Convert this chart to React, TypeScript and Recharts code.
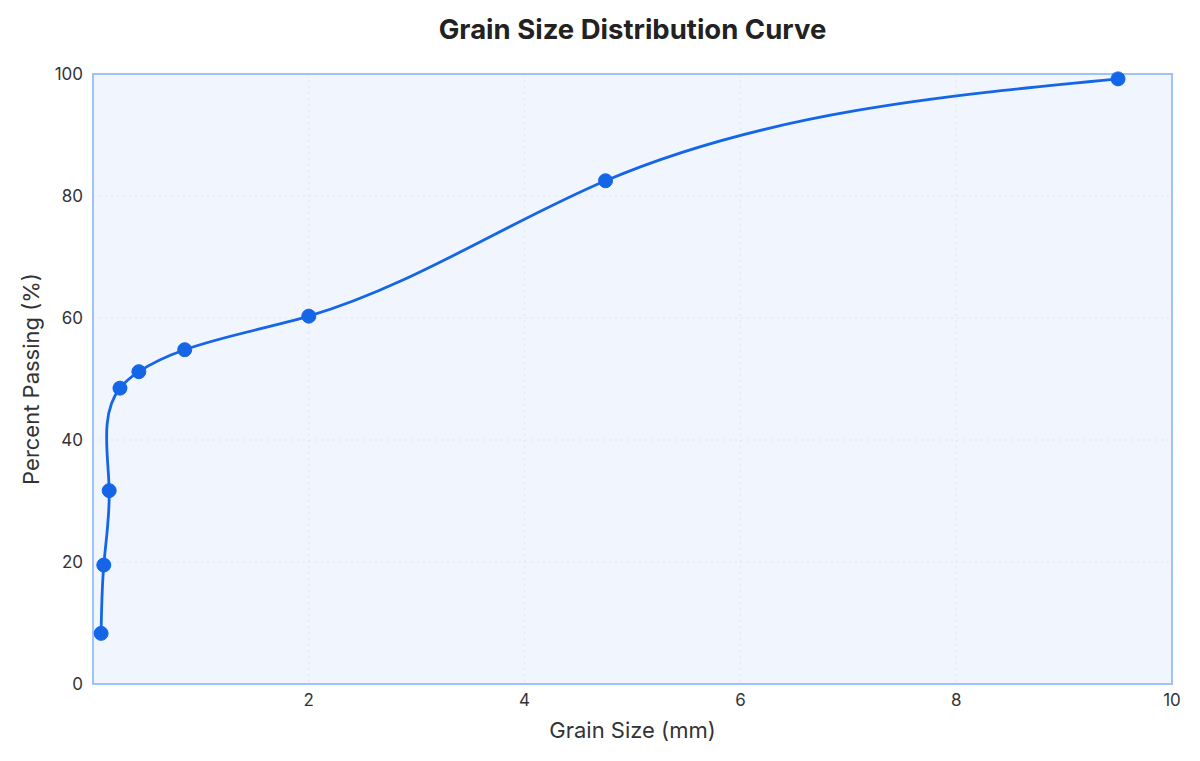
import { LineChart, Line, XAxis, YAxis, CartesianGrid, ReferenceArea } from 'recharts'

const grainSize = [0.075, 0.1, 0.15, 0.25, 0.425, 0.85, 2.0, 4.75, 9.5]
const percentPassing = [8.3, 19.5, 31.7, 48.5, 51.2, 54.8, 60.3, 82.5, 99.2]
const xTicks = [2, 4, 6, 8, 10]
const yTicks = [0, 20, 40, 60, 80, 100]

const data = grainSize.map((size, i) => ({ size, passing: percentPassing[i] }))

const FONT = 'Inter, "Noto Sans", sans-serif'
const BLUE = '#1466e6'

// natural cubic spline through the points, parameterised by chord length
function solveNatural(t: number[], v: number[]) {
  const n = v.length - 1
  const h = t.slice(1).map((x, i) => x - t[i])
  const M = new Array(n + 1).fill(0)
  if (n < 2) return { h, M }
  const a: number[] = [], b: number[] = [], c: number[] = [], d: number[] = []
  for (let i = 1; i < n; i++) {
    a.push(h[i - 1])
    b.push(2 * (h[i - 1] + h[i]))
    c.push(h[i])
    d.push(6 * ((v[i + 1] - v[i]) / h[i] - (v[i] - v[i - 1]) / h[i - 1]))
  }
  const m = b.length
  for (let i = 1; i < m; i++) {
    const w = a[i] / b[i - 1]
    b[i] -= w * c[i - 1]
    d[i] -= w * d[i - 1]
  }
  const sol = new Array(m).fill(0)
  sol[m - 1] = d[m - 1] / b[m - 1]
  for (let i = m - 2; i >= 0; i--) sol[i] = (d[i] - c[i] * sol[i + 1]) / b[i]
  for (let i = 0; i < m; i++) M[i + 1] = sol[i]
  return { h, M }
}

function chordSpline(context: any) {
  let pts: [number, number][] = []
  return {
    areaStart() {},
    areaEnd() {},
    lineStart() {
      pts = []
    },
    point(x: number, y: number) {
      pts.push([+x, +y])
    },
    lineEnd() {
      if (!pts.length) return
      context.moveTo(pts[0][0], pts[0][1])
      if (pts.length < 3) {
        pts.slice(1).forEach((p) => context.lineTo(p[0], p[1]))
        return
      }
      const t = [0]
      for (let i = 1; i < pts.length; i++) {
        t.push(t[i - 1] + Math.hypot(pts[i][0] - pts[i - 1][0], pts[i][1] - pts[i - 1][1]))
      }
      const xs = pts.map((p) => p[0])
      const ys = pts.map((p) => p[1])
      const sx = solveNatural(t, xs)
      const sy = solveNatural(t, ys)
      for (let i = 0; i < pts.length - 1; i++) {
        const h = sx.h[i]
        const d0 = (v: number[], M: number[]) => (v[i + 1] - v[i]) / h - (h * (2 * M[i] + M[i + 1])) / 6
        const d1 = (v: number[], M: number[]) => (v[i + 1] - v[i]) / h + (h * (M[i] + 2 * M[i + 1])) / 6
        const c1x = xs[i] + (h * d0(xs, sx.M)) / 3
        const c1y = ys[i] + (h * d0(ys, sy.M)) / 3
        const c2x = xs[i + 1] - (h * d1(xs, sx.M)) / 3
        const c2y = ys[i + 1] - (h * d1(ys, sy.M)) / 3
        context.bezierCurveTo(c1x, c1y, c2x, c2y, xs[i + 1], ys[i + 1])
      }
    },
  }
}

export default function App() {
  return (
    <div style={{ position: 'absolute', left: 0, top: 0, width: 1200, height: 761, background: '#fff', fontFamily: FONT }}>
      <div
        style={{
          position: 'absolute',
          left: 93,
          width: 1079,
          top: 12,
          textAlign: 'center',
          fontSize: 27.5,
          fontWeight: 700,
          color: '#222',
        }}
      >
        Grain Size Distribution Curve
      </div>
      <LineChart width={1200} height={761} data={data} margin={{ top: 74, right: 28, bottom: 17, left: 0 }}>
        <CartesianGrid
          stroke="#dfe6ef"
          strokeDasharray="2 4"
          fill="#f1f6fe"
          fillOpacity={1}
          verticalValues={[2, 4, 6, 8]}
          horizontalValues={[20, 40, 60, 80]}
        />
        <XAxis
          dataKey="size"
          type="number"
          domain={[0, 10]}
          ticks={xTicks}
          height={60}
          axisLine={false}
          tickLine={false}
          tick={{ fill: '#333', fontSize: 17, fontFamily: FONT }}
          tickMargin={4}
          label={{ value: 'Grain Size (mm)', position: 'insideBottom', offset: 6, fill: '#333', fontSize: 22, fontFamily: FONT }}
        />
        <YAxis
          type="number"
          domain={[0, 100]}
          ticks={yTicks}
          width={93}
          axisLine={false}
          tickLine={false}
          tick={{ fill: '#333', fontSize: 17, fontFamily: FONT }}
          tickMargin={4}
          label={{ value: 'Percent Passing (%)', angle: -90, position: 'insideLeft', offset: 31, fill: '#333', fontSize: 22, fontFamily: FONT, style: { textAnchor: 'middle' } }}
        />
        <ReferenceArea x1={0} x2={10} y1={0} y2={100} fill="none" stroke="#9fc3f7" strokeWidth={2} ifOverflow="visible" />
        <Line
          type={chordSpline as any}
          dataKey="passing"
          stroke={BLUE}
          strokeWidth={2.8}
          dot={{ r: 7, fill: BLUE, stroke: BLUE, strokeWidth: 1 }}
          activeDot={false}
          isAnimationActive={false}
        />
      </LineChart>
    </div>
  )
}
